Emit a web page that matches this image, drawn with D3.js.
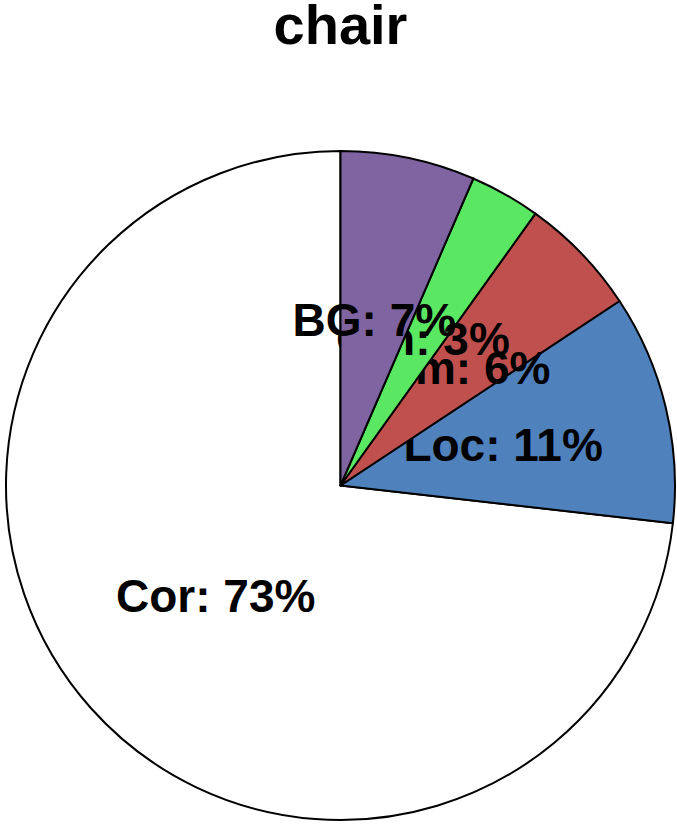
<!DOCTYPE html>
<html>
<head>
<meta charset="utf-8">
<script src="https://cdn.jsdelivr.net/npm/d3@7"></script>
<style>
  html, body { margin: 0; padding: 0; background: #fff; }
  text { font-family: "Liberation Sans", Arial, Helvetica, sans-serif; font-weight: bold; }
</style>
</head>
<body>
<div id="chart"></div>
<script>
// data (clockwise from 12 o'clock)
const title = 'chair';
const categories = ['BG', 'Oth', 'Sim', 'Loc', 'Cor'];
const shares = [6.5, 3.4, 5.8, 11.1, 73.2];
const colors = ['#8064a2', '#5ae862', '#c0504d', '#4f81bd', '#ffffff'];

const width = 677;
const height = 824;
const cx = 340.5, cy = 485.5, radius = 334.5;

const svg = d3.select('#chart')
  .append('svg')
  .attr('width', width)
  .attr('height', height);

// title
svg.append('text')
  .attr('x', cx)
  .attr('y', 44)
  .attr('text-anchor', 'middle')
  .style('font-size', '56px')
  .text(title);

const g = svg.append('g')
  .attr('transform', `translate(${cx},${cy})`);

const data = categories.map((c, i) => ({ label: c, value: shares[i], color: colors[i] }));

const pie = d3.pie().sort(null).value(d => d.value);
const arc = d3.arc().innerRadius(0).outerRadius(radius);

// slices are painted last-to-first, each followed by its own label,
// so a later slice covers the parts of earlier labels that spill onto it
const arcs = g.selectAll('g.slice')
  .data(pie(data).reverse())
  .enter()
  .append('g')
  .attr('class', 'slice');

arcs.append('path')
  .attr('d', arc)
  .attr('fill', d => d.data.color)
  .attr('stroke', '#000')
  .attr('stroke-width', 2)
  .attr('stroke-linejoin', 'round');

arcs.append('text')
  .attr('transform', d => `translate(${arc.centroid(d)})`)
  .attr('dy', '0.32em')
  .attr('text-anchor', 'middle')
  .style('font-size', '46px')
  .text(d => `${d.data.label}: ${Math.round(d.data.value)}%`);
</script>
</body>
</html>
